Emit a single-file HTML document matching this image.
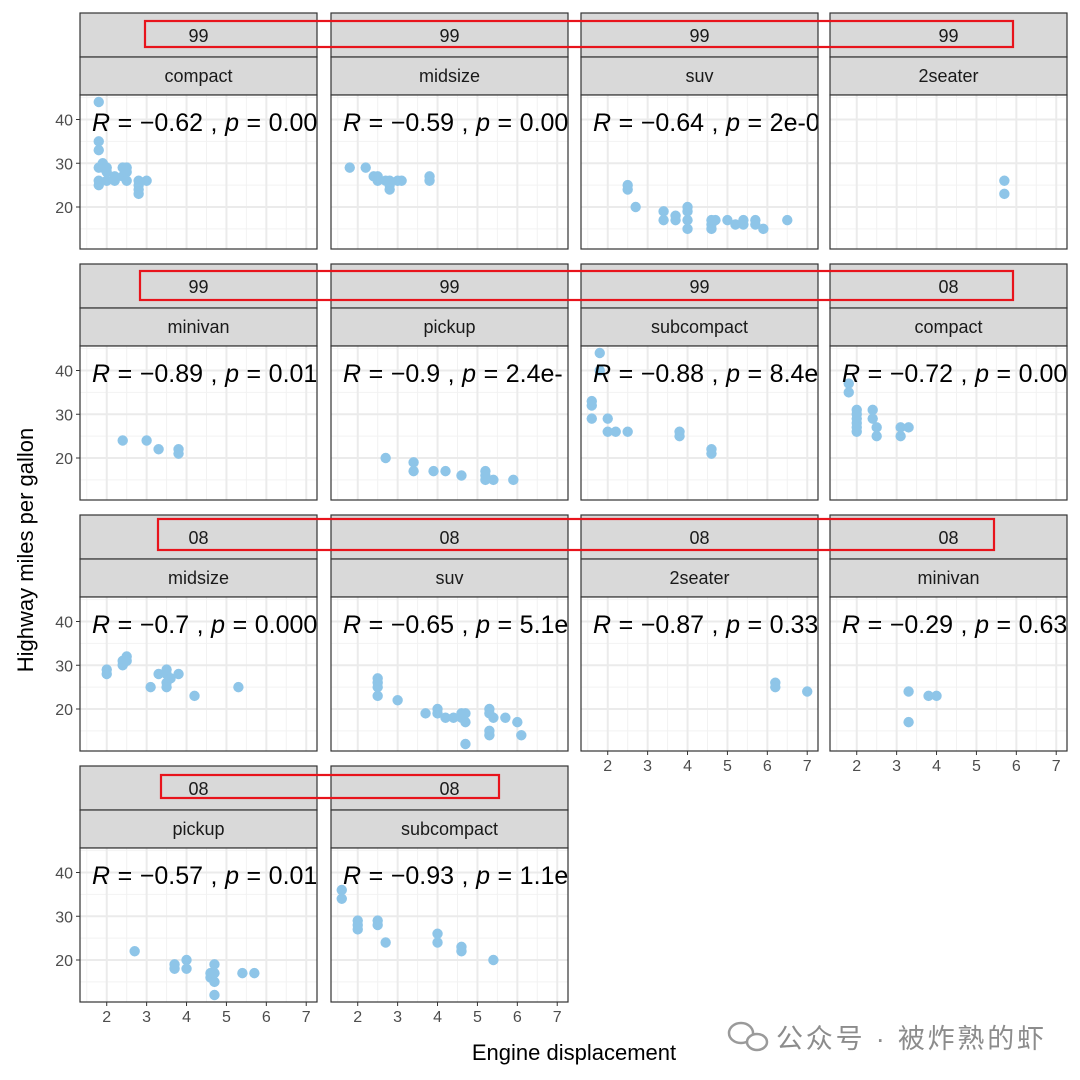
<!DOCTYPE html>
<html><head><meta charset="utf-8">
<style>
html,body{margin:0;padding:0;background:#fff;}
svg{display:block;font-family:"Liberation Sans","Noto Sans CJK SC",sans-serif;}
</style></head>
<body>
<svg id="chart" width="1080" height="1080" viewBox="0 0 1080 1080" xmlns="http://www.w3.org/2000/svg"></svg>
<script>
const years = ["99","99","99","99","99","99","99","08","08","08","08","08","08","08"];
const classes = ["compact","midsize","suv","2seater","minivan","pickup","subcompact","compact","midsize","suv","2seater","minivan","pickup","subcompact"];
const rTexts = ["0.62","0.59","0.64",null,"0.89","0.9","0.88","0.72","0.7","0.65","0.87","0.29","0.57","0.93"];
const pTexts = ["0.00","0.00","2e-0",null,"0.01","2.4e-","8.4e","0.00","0.000","5.1e","0.33","0.63","0.01","1.1e"];
const displ = [
 [1.8,1.8,1.8,1.8,1.8,1.8,1.9,1.9,2.0,2.0,2.0,2.2,2.2,2.4,2.4,2.5,2.5,2.5,2.8,2.8,2.8,2.8,3.0],
 [1.8,2.2,2.4,2.5,2.5,2.7,2.8,2.8,2.8,3.0,3.1,3.8,3.8],
 [2.5,2.5,2.7,3.4,3.4,3.7,3.7,4.0,4.0,4.0,4.0,4.6,4.6,4.6,4.7,5.0,5.2,5.4,5.4,5.7,5.7,5.9,6.5],
 [5.7,5.7],
 [2.4,3.0,3.3,3.8,3.8],
 [2.7,3.4,3.4,3.9,4.2,4.6,5.2,5.2,5.2,5.4,5.9],
 [1.6,1.6,1.6,1.8,1.8,2.0,2.0,2.2,2.5,3.8,3.8,4.6,4.6],
 [1.8,1.8,2.0,2.0,2.0,2.0,2.0,2.0,2.4,2.4,2.5,2.5,3.1,3.1,3.3],
 [2.0,2.0,2.4,2.4,2.5,2.5,3.1,3.3,3.5,3.5,3.5,3.5,3.6,3.8,4.2,5.3],
 [2.5,2.5,2.5,2.5,3.0,3.7,4.0,4.0,4.2,4.4,4.6,4.6,4.7,4.7,4.7,5.3,5.3,5.3,5.3,5.4,5.7,6.0,6.1],
 [6.2,6.2,7.0],
 [3.3,3.3,3.8,4.0],
 [2.7,3.7,3.7,4.0,4.0,4.6,4.6,4.7,4.7,4.7,4.7,5.4,5.7],
 [1.6,1.6,2.0,2.0,2.0,2.5,2.5,2.7,4.0,4.0,4.6,4.6,5.4]
];
const hwy = [
 [44,35,33,29,26,25,30,29,29,28,26,27,26,29,27,26,28,29,26,25,24,23,26],
 [29,29,27,27,26,26,24,25,26,26,26,27,26],
 [25,24,20,19,17,17,18,20,19,17,15,17,16,15,17,17,16,17,16,17,16,15,17],
 [26,23],
 [24,24,22,22,21],
 [20,19,17,17,17,16,17,16,15,15,15],
 [33,32,29,44,40,29,26,26,26,26,25,22,21],
 [37,35,31,30,29,28,27,26,31,29,27,25,27,25,27],
 [29,28,31,30,32,31,25,28,29,28,26,25,27,28,23,25],
 [27,26,25,23,22,19,20,19,18,18,19,18,19,17,12,20,19,15,14,18,18,17,14],
 [26,25,24],
 [24,17,23,23],
 [22,19,18,20,18,17,16,19,17,15,12,17,17],
 [36,34,29,28,27,29,28,24,26,24,23,22,20]
];
const xTicks = [2,3,4,5,6,7];
const yTicks = [20,30,40];

const NS="http://www.w3.org/2000/svg";
const svg=document.getElementById('chart');
function el(tag,attrs,parent){const e=document.createElementNS(NS,tag);for(const k in attrs)e.setAttribute(k,attrs[k]);(parent||svg).appendChild(e);return e;}
const colX=[80,331,581,830], PW=237;
const rowTop=[13,264,515,766];
const XMIN=1.33,XMAX=7.27,YMIN=10.4,YMAX=45.6;
const defs=el('defs',{});
for(let i=0;i<14;i++){
  const c=i%4,r=Math.floor(i/4);
  const x0=colX[c], t=rowTop[r];
  const py=t+82, PH=154;
  const sx=v=>x0+(v-XMIN)/(XMAX-XMIN)*PW;
  const sy=v=>py+PH-(v-YMIN)/(YMAX-YMIN)*PH;
  const g=el('g',{});
  
  
  const s1=el('rect',{x:x0,y:t,width:PW,height:44,fill:'#d9d9d9',stroke:'#333','stroke-width':1.2},g);
  
  
  const st1=el('text',{x:x0+PW/2,y:t+29,'text-anchor':'middle','font-size':18,fill:'#1a1a1a'},g);st1.textContent=years[i];
  
  
  const s2=el('rect',{x:x0,y:t+44,width:PW,height:38,fill:'#d9d9d9',stroke:'#333','stroke-width':1.2},g);
  
  
  const st2=el('text',{x:x0+PW/2,y:t+69,'text-anchor':'middle','font-size':18,fill:'#1a1a1a'},g);st2.textContent=classes[i];
  
  
  el('rect',{x:x0,y:py,width:PW,height:PH,fill:'#fff'},g);
  for(let v=1.5;v<=7.27;v+=1) el('line',{x1:sx(v),x2:sx(v),y1:py,y2:py+PH,stroke:'#f2f2f2','stroke-width':1},g);
  for(const v of [15,25,35,45]) el('line',{x1:x0,x2:x0+PW,y1:sy(v),y2:sy(v),stroke:'#f2f2f2','stroke-width':1},g);
  for(const v of xTicks) el('line',{x1:sx(v),x2:sx(v),y1:py,y2:py+PH,stroke:'#ebebeb','stroke-width':2},g);
  for(const v of yTicks) el('line',{x1:x0,x2:x0+PW,y1:sy(v),y2:sy(v),stroke:'#ebebeb','stroke-width':2},g);
  for(let k=0;k<displ[i].length;k++){
    const p=el('circle',{cx:sx(displ[i][k]),cy:sy(hwy[i][k]),r:5.2,fill:'#8ec5e8'},g);
    
    
  }
  if(rTexts[i]){
    const cp=el('clipPath',{id:'cp'+i},defs);el('rect',{x:x0,y:py,width:PW,height:PH},cp);
    const tx=el('text',{x:x0+12,y:py+36,'font-size':25,fill:'#000','clip-path':'url(#cp'+i+')','word-spacing':0.6},g);
    tx.innerHTML='<tspan font-style="italic">R</tspan> = \u2212'+rTexts[i]+' , <tspan font-style="italic">p</tspan> = '+pTexts[i];
    
    
  }
  el('rect',{x:x0,y:py,width:PW,height:PH,fill:'none',stroke:'#333','stroke-width':1.2},g);
  if(c===0){
    for(const v of yTicks){
      el('line',{x1:x0-4,x2:x0,y1:sy(v),y2:sy(v),stroke:'#333'},g);
      const tl=el('text',{x:x0-7,y:sy(v)+6,'text-anchor':'end','font-size':16,fill:'#4d4d4d'},g);tl.textContent=v;
      
      
    }
  }
  if(r===3||(r===2&&c>=2)){
    for(const v of xTicks){
      el('line',{x1:sx(v),x2:sx(v),y1:py+PH,y2:py+PH+4,stroke:'#333'},g);
      const tl=el('text',{x:sx(v),y:py+PH+20,'text-anchor':'middle','font-size':16,fill:'#4d4d4d'},g);tl.textContent=v;
      
      
    }
  }
}
const boxes=[[145,21,868,26],[140,271,873,29],[158,519,836,31],[161,775,338,23]];
for(const b of boxes){
  const rb=el('rect',{x:b[0],y:b[1],width:b[2],height:b[3],fill:'none',stroke:'#e8141c','stroke-width':2.2});
  
  
}
const yt=el('text',{x:0,y:0,transform:'translate(33,550) rotate(-90)','text-anchor':'middle','font-size':22,fill:'#000'});
yt.textContent='Highway miles per gallon';


const xt=el('text',{x:574,y:1060,'text-anchor':'middle','font-size':22,fill:'#000'});
xt.textContent='Engine displacement';


const wi=el('g',{});


el('ellipse',{cx:741,cy:1033,rx:12,ry:10,fill:'none',stroke:'#9a9a9a','stroke-width':2.5},wi);
el('ellipse',{cx:757,cy:1042,rx:10,ry:8,fill:'#fff',stroke:'#9a9a9a','stroke-width':2.5},wi);
const wm=el('text',{x:776,y:1048,'font-size':27,fill:'#8c8c8c','textLength':268});
wm.textContent='公众号 · 被炸熟的虾';


</script>
</body></html>
